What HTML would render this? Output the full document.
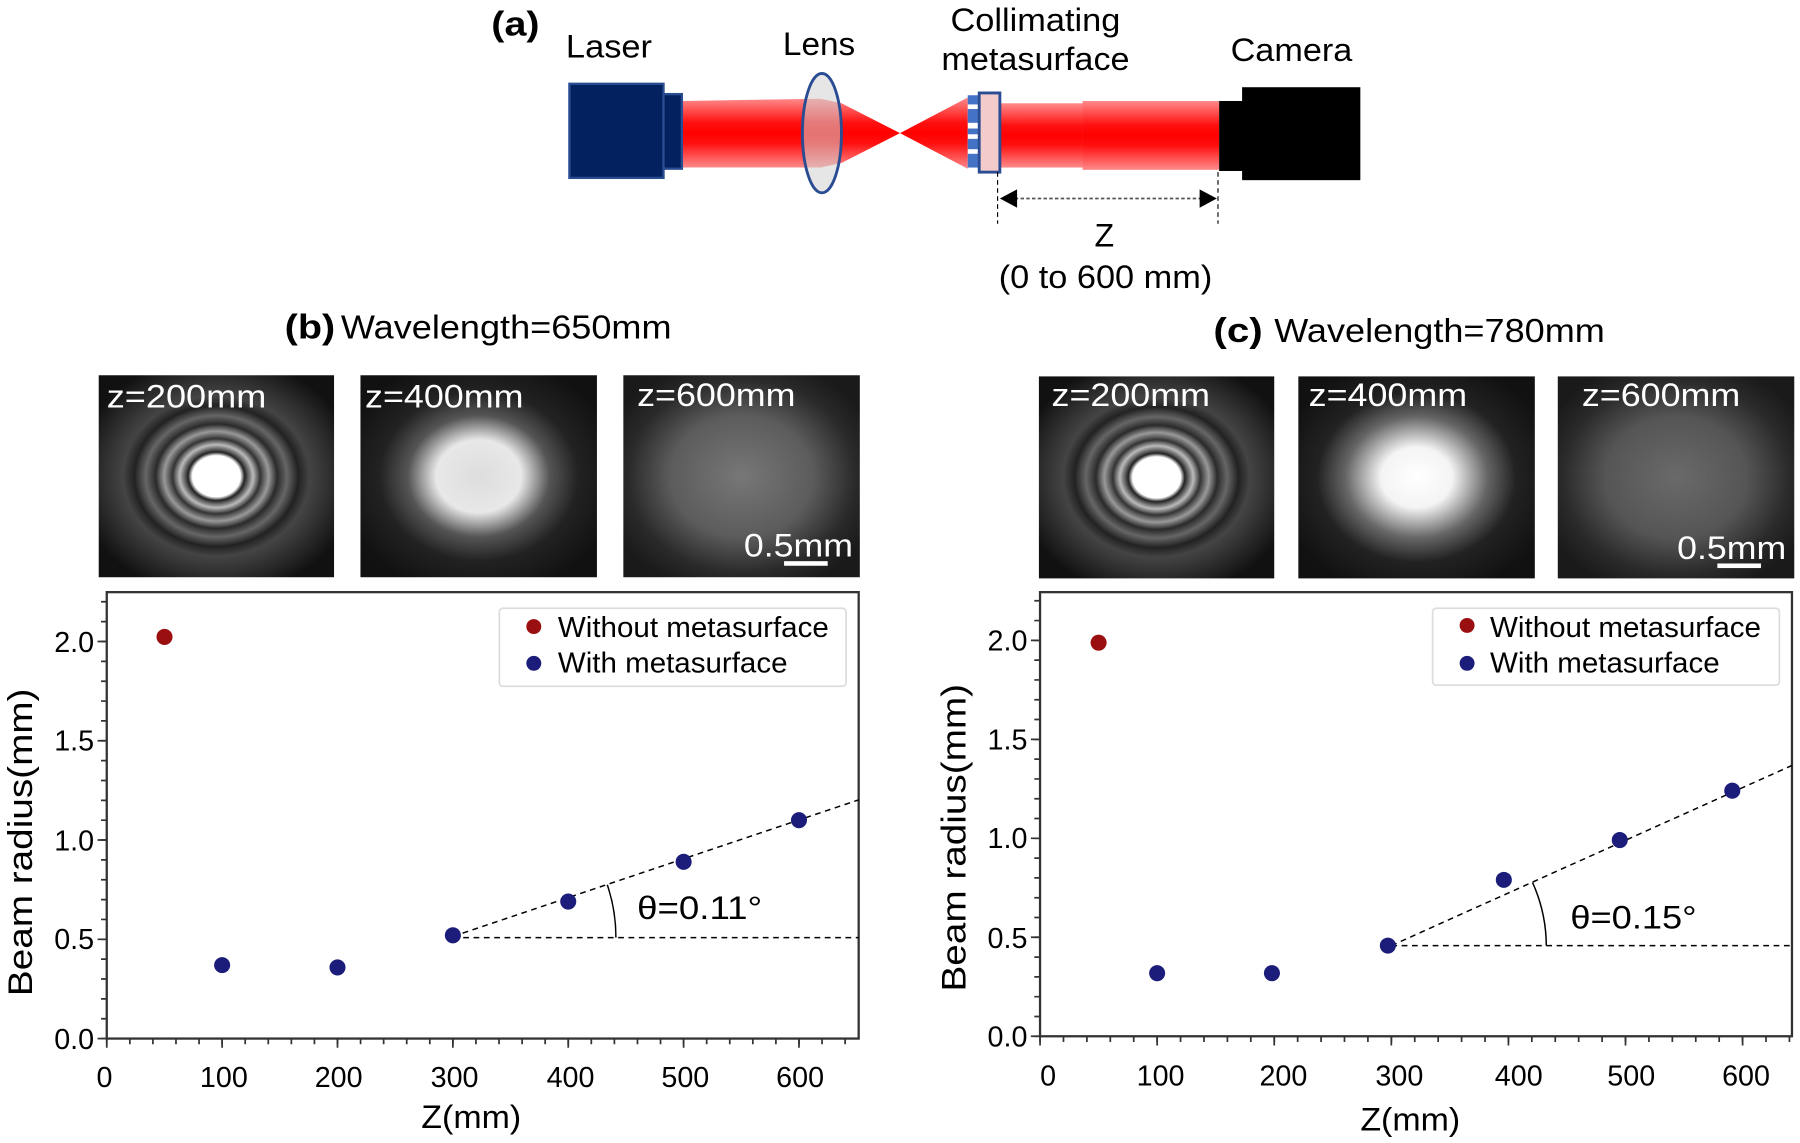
<!DOCTYPE html>
<html><head><meta charset="utf-8"><style>
html,body{margin:0;padding:0;background:#fff;}
svg{display:block;}
text{font-family:"Liberation Sans","DejaVu Sans",sans-serif;fill:#000;}
</style></head><body>
<svg width="1800" height="1143" viewBox="0 0 1568 996" preserveAspectRatio="none" xmlns="http://www.w3.org/2000/svg">
<defs>
<linearGradient id="beam" x1="0" y1="0" x2="0" y2="1">
<stop offset="0" stop-color="#ff8a8a"/><stop offset="0.35" stop-color="#ff1010"/><stop offset="0.5" stop-color="#ff0000"/><stop offset="0.65" stop-color="#ff1010"/><stop offset="1" stop-color="#ff8a8a"/></linearGradient>
<radialGradient id="g1" cx="0.5" cy="0.5" r="0.6"><stop offset="0" stop-color="#fff"/><stop offset="0.17" stop-color="#fff"/><stop offset="0.2" stop-color="#222"/><stop offset="0.26" stop-color="#bbb"/><stop offset="0.31" stop-color="#333"/><stop offset="0.37" stop-color="#999"/><stop offset="0.43" stop-color="#2a2a2a"/><stop offset="0.5" stop-color="#666"/><stop offset="0.58" stop-color="#222"/><stop offset="0.66" stop-color="#444"/><stop offset="1" stop-color="#111"/></radialGradient>
<radialGradient id="g2" cx="0.5" cy="0.5" r="0.6"><stop offset="0" stop-color="#ddd"/><stop offset="0.3" stop-color="#e8e8e8"/><stop offset="0.5" stop-color="#555"/><stop offset="0.7" stop-color="#222"/><stop offset="1" stop-color="#111"/></radialGradient>
<radialGradient id="g3" cx="0.5" cy="0.5" r="0.6"><stop offset="0" stop-color="#777"/><stop offset="0.5" stop-color="#5c5c5c"/><stop offset="0.8" stop-color="#2a2a2a"/><stop offset="1" stop-color="#1a1a1a"/></radialGradient>
<radialGradient id="g5" cx="0.5" cy="0.5" r="0.6"><stop offset="0" stop-color="#fff"/><stop offset="0.25" stop-color="#f4f4f4"/><stop offset="0.5" stop-color="#666"/><stop offset="0.7" stop-color="#222"/><stop offset="1" stop-color="#111"/></radialGradient>
<radialGradient id="g6" cx="0.5" cy="0.5" r="0.6"><stop offset="0" stop-color="#6a6a6a"/><stop offset="0.5" stop-color="#555"/><stop offset="0.8" stop-color="#2a2a2a"/><stop offset="1" stop-color="#1a1a1a"/></radialGradient>
</defs>

<!-- (a) schematic -->
<text x="428" y="31" font-size="30" font-weight="bold" textLength="42" lengthAdjust="spacingAndGlyphs">(a)</text>
<text x="493" y="50" font-size="28" textLength="75" lengthAdjust="spacingAndGlyphs">Laser</text>
<text x="682" y="48" font-size="28" textLength="63" lengthAdjust="spacingAndGlyphs">Lens</text>
<text x="828" y="27" font-size="28" textLength="148" lengthAdjust="spacingAndGlyphs">Collimating</text>
<text x="820" y="61" font-size="28" textLength="164" lengthAdjust="spacingAndGlyphs">metasurface</text>
<text x="1072" y="53" font-size="28" textLength="106" lengthAdjust="spacingAndGlyphs">Camera</text>

<polygon points="594,88 715,86 733,90 784,116 733,142 715,146 594,146" fill="url(#beam)"/>
<polygon points="784,116 843,85 843,147" fill="url(#beam)"/>
<rect x="871" y="90" width="72" height="56" fill="url(#beam)"/>
<rect x="943" y="88" width="119" height="60" fill="url(#beam)"/>
<rect x="496" y="73" width="82" height="82" fill="#02215e" stroke="#2a4c92" stroke-width="2"/>
<rect x="578" y="82" width="16" height="65" fill="#02215e" stroke="#2a4c92" stroke-width="2"/>
<ellipse cx="716" cy="116" rx="17" ry="52" fill="rgba(210,210,210,0.55)" stroke="#2a4c92" stroke-width="2.5"/>
<rect x="843" y="83" width="10" height="8" fill="#4472c4"/>
<rect x="843" y="95" width="10" height="12" fill="#4472c4"/>
<rect x="843" y="112" width="10" height="5" fill="#4472c4"/>
<rect x="843" y="121" width="10" height="9" fill="#4472c4"/>
<rect x="843" y="134" width="10" height="12" fill="#4472c4"/>
<rect x="853" y="81" width="18" height="69" fill="rgba(240,190,190,0.8)" stroke="#2a4c92" stroke-width="2.5"/>
<rect x="1062" y="88" width="22" height="61" fill="#000"/>
<rect x="1082" y="76" width="103" height="81" fill="#000"/>
<line x1="869" y1="150" x2="869" y2="195" stroke="#000" stroke-width="1" stroke-dasharray="4 3"/>
<line x1="1061" y1="150" x2="1061" y2="195" stroke="#000" stroke-width="1" stroke-dasharray="4 3"/>
<line x1="884" y1="173" x2="1046" y2="173" stroke="#555" stroke-width="1.5" stroke-dasharray="3 2"/>
<polygon points="871,173 886,165 886,181" fill="#000"/>
<polygon points="1060,173 1045,165 1045,181" fill="#000"/>
<text x="962" y="215" font-size="28" text-anchor="middle">Z</text>
<text x="870" y="251" font-size="28" textLength="186" lengthAdjust="spacingAndGlyphs">(0 to 600 mm)</text>

<!-- titles -->
<text x="248" y="295" font-size="30" font-weight="bold" textLength="44" lengthAdjust="spacingAndGlyphs">(b)</text>
<text x="297" y="295" font-size="29" textLength="288" lengthAdjust="spacingAndGlyphs">Wavelength=650mm</text>
<text x="1057" y="298" font-size="30" font-weight="bold" textLength="43" lengthAdjust="spacingAndGlyphs">(c)</text>
<text x="1110" y="298" font-size="29" textLength="288" lengthAdjust="spacingAndGlyphs">Wavelength=780mm</text>

<!-- images b -->
<rect x="86" y="327" width="205" height="176" fill="url(#g1)"/>
<rect x="314" y="327" width="206" height="176" fill="url(#g2)"/>
<rect x="543" y="327" width="206" height="176" fill="url(#g3)"/>
<text x="93" y="355" font-size="28" style="fill:#fff" textLength="139" lengthAdjust="spacingAndGlyphs">z=200mm</text>
<text x="318" y="355" font-size="28" style="fill:#fff" textLength="138" lengthAdjust="spacingAndGlyphs">z=400mm</text>
<text x="555" y="354" font-size="28" style="fill:#fff" textLength="138" lengthAdjust="spacingAndGlyphs">z=600mm</text>
<text x="648" y="485" font-size="28" style="fill:#fff" textLength="95" lengthAdjust="spacingAndGlyphs">0.5mm</text>
<rect x="683" y="489" width="38" height="4" fill="#fff"/>
<!-- images c -->
<rect x="905" y="328" width="205" height="176" fill="url(#g1)"/>
<rect x="1131" y="328" width="206" height="176" fill="url(#g5)"/>
<rect x="1357" y="328" width="206" height="176" fill="url(#g6)"/>
<text x="916" y="354" font-size="28" style="fill:#fff" textLength="138" lengthAdjust="spacingAndGlyphs">z=200mm</text>
<text x="1140" y="354" font-size="28" style="fill:#fff" textLength="138" lengthAdjust="spacingAndGlyphs">z=400mm</text>
<text x="1378" y="354" font-size="28" style="fill:#fff" textLength="138" lengthAdjust="spacingAndGlyphs">z=600mm</text>
<text x="1461" y="487" font-size="28" style="fill:#fff" textLength="95" lengthAdjust="spacingAndGlyphs">0.5mm</text>
<rect x="1496" y="491" width="38" height="4" fill="#fff"/>

<!-- left plot -->
<rect x="93" y="516" width="655" height="389" fill="none" stroke="#333" stroke-width="2"/>
<line x1="92.25" y1="907.5" x2="749" y2="907.5" stroke="#333" stroke-width="5" stroke-dasharray="1.5 18.6"/>
<line x1="92.25" y1="909" x2="749" y2="909" stroke="#333" stroke-width="8" stroke-dasharray="1.5 99"/>
<line x1="90.5" y1="905.75" x2="90.5" y2="516" stroke="#333" stroke-width="5" stroke-dasharray="1.5 15.8"/>
<line x1="89" y1="905.75" x2="89" y2="516" stroke="#333" stroke-width="8" stroke-dasharray="1.5 85"/>
<g font-size="25" text-anchor="end">
<text x="82" y="914">0.0</text><text x="82" y="827">0.5</text><text x="82" y="741">1.0</text><text x="82" y="654">1.5</text><text x="82" y="568">2.0</text></g>
<g font-size="25" text-anchor="middle">
<text x="91" y="947">0</text><text x="195" y="947">100</text><text x="295" y="947">200</text><text x="396" y="947">300</text><text x="497" y="947">400</text><text x="597" y="947">500</text><text x="697" y="947">600</text></g>
<text x="367" y="983" font-size="28" textLength="87" lengthAdjust="spacingAndGlyphs">Z(mm)</text>
<text transform="translate(28,868) rotate(-90)" font-size="30" textLength="268" lengthAdjust="spacingAndGlyphs">Beam radius(mm)</text>
<line x1="394.5" y1="816" x2="748" y2="697" stroke="#000" stroke-width="1.3" stroke-dasharray="5 4"/>
<line x1="394.5" y1="817" x2="748" y2="817" stroke="#000" stroke-width="1.3" stroke-dasharray="5 4"/>
<path d="M529 771 A142 142 0 0 1 536.5 817" fill="none" stroke="#000" stroke-width="1.3"/>
<text x="555" y="801" font-size="28" textLength="109" lengthAdjust="spacingAndGlyphs">θ=0.11°</text>
<circle cx="143.3" cy="555" r="7" fill="#9a0f0f"/>
<g fill="#1c1c7a"><circle cx="193.5" cy="841" r="7"/><circle cx="294" cy="843" r="7"/><circle cx="394.5" cy="815" r="7"/><circle cx="495" cy="785.6" r="7"/><circle cx="595.5" cy="751" r="7"/><circle cx="696" cy="714.7" r="7"/></g>
<rect x="435" y="530" width="302" height="68" rx="3" fill="#fff" stroke="#ddd" stroke-width="1.5"/>
<circle cx="465" cy="546" r="6.5" fill="#9a0f0f"/><circle cx="465" cy="578" r="6.5" fill="#1c1c7a"/>
<text x="486" y="555" font-size="25" textLength="236" lengthAdjust="spacingAndGlyphs">Without metasurface</text>
<text x="486" y="586" font-size="25" textLength="200" lengthAdjust="spacingAndGlyphs">With metasurface</text>

<!-- right plot -->
<rect x="906" y="516" width="655" height="387" fill="none" stroke="#333" stroke-width="2"/>
<line x1="905.25" y1="905.5" x2="1562" y2="905.5" stroke="#333" stroke-width="5" stroke-dasharray="1.5 18.9"/>
<line x1="905.25" y1="907" x2="1562" y2="907" stroke="#333" stroke-width="8" stroke-dasharray="1.5 100.5"/>
<line x1="903.5" y1="903.75" x2="903.5" y2="516" stroke="#333" stroke-width="5" stroke-dasharray="1.5 15.75"/>
<line x1="902" y1="903.75" x2="902" y2="516" stroke="#333" stroke-width="8" stroke-dasharray="1.5 84.75"/>
<g font-size="25" text-anchor="end">
<text x="895" y="912">0.0</text><text x="895" y="826">0.5</text><text x="895" y="739">1.0</text><text x="895" y="653">1.5</text><text x="895" y="567">2.0</text></g>
<g font-size="25" text-anchor="middle">
<text x="913" y="946">0</text><text x="1011" y="946">100</text><text x="1118" y="946">200</text><text x="1219" y="946">300</text><text x="1323" y="946">400</text><text x="1421" y="946">500</text><text x="1521" y="946">600</text></g>
<text x="1185" y="985" font-size="28" textLength="87" lengthAdjust="spacingAndGlyphs">Z(mm)</text>
<text transform="translate(841,864) rotate(-90)" font-size="30" textLength="268" lengthAdjust="spacingAndGlyphs">Beam radius(mm)</text>
<line x1="1212" y1="824" x2="1561" y2="667" stroke="#000" stroke-width="1.3" stroke-dasharray="5 4"/>
<line x1="1212" y1="824" x2="1561" y2="824" stroke="#000" stroke-width="1.3" stroke-dasharray="5 4"/>
<path d="M1335 769 A135 135 0 0 1 1347 824" fill="none" stroke="#000" stroke-width="1.3"/>
<text x="1368" y="809" font-size="28" textLength="110" lengthAdjust="spacingAndGlyphs">θ=0.15°</text>
<circle cx="957" cy="560" r="7" fill="#9a0f0f"/>
<g fill="#1c1c7a"><circle cx="1008" cy="848" r="7"/><circle cx="1108" cy="848" r="7"/><circle cx="1209" cy="824" r="7"/><circle cx="1310" cy="766.7" r="7"/><circle cx="1411" cy="732" r="7"/><circle cx="1509" cy="689" r="7"/></g>
<rect x="1248" y="530" width="302" height="67" rx="3" fill="#fff" stroke="#ddd" stroke-width="1.5"/>
<circle cx="1278" cy="545" r="6.5" fill="#9a0f0f"/><circle cx="1278" cy="578" r="6.5" fill="#1c1c7a"/>
<text x="1298" y="555" font-size="25" textLength="236" lengthAdjust="spacingAndGlyphs">Without metasurface</text>
<text x="1298" y="586" font-size="25" textLength="200" lengthAdjust="spacingAndGlyphs">With metasurface</text>
</svg>
</body></html>
